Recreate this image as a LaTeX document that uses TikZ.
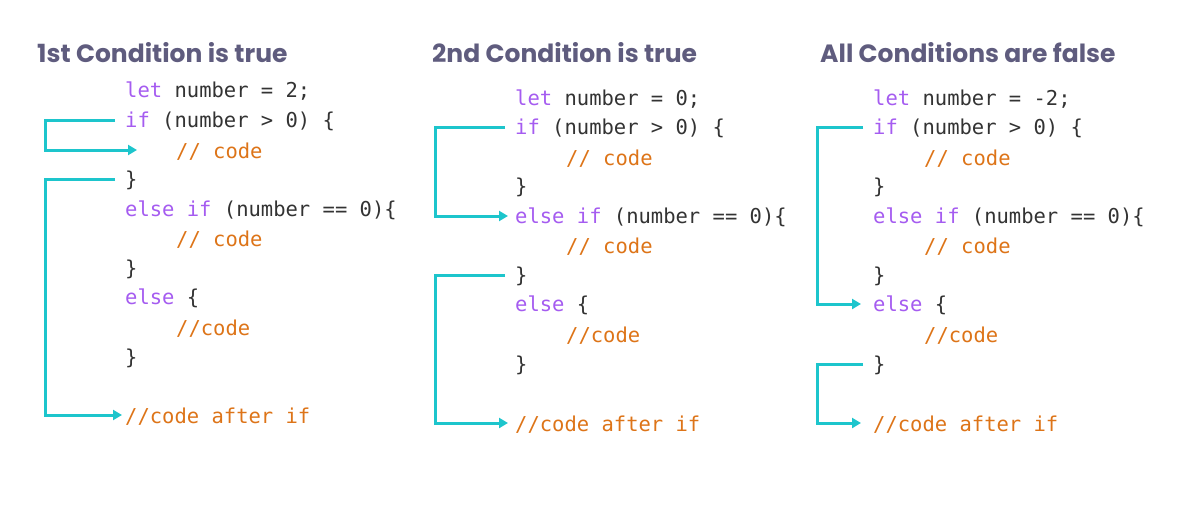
\documentclass[tikz,border=0pt]{standalone}
\usepackage{fontspec}
\setmainfont{Poppins}
\setmonofont{DejaVu Sans Mono}
\usetikzlibrary{arrows.meta}
\definecolor{kw}{HTML}{A55CF0}
\definecolor{cm}{HTML}{DD7418}
\definecolor{tx}{HTML}{333333}
\definecolor{ti}{HTML}{5F5C7E}
\definecolor{ar}{HTML}{1DC5CC}
\tikzset{
 code/.style={anchor=west,inner sep=0,yshift=-1.5pt,font=\fontsize{20.5}{20.5}\selectfont\ttfamily,text=tx},
 ttl/.style={anchor=west,inner sep=0,font=\fontsize{25}{25}\selectfont\bfseries,text=ti},
 flow/.style={draw=ar,line width=3pt,-{Triangle[length=9pt,width=10pt]}}
}
\newcommand{\K}[1]{\textcolor{kw}{#1}}
\newcommand{\C}[1]{\textcolor{cm}{#1}}
\begin{document}
\begin{tikzpicture}[x=1pt,y=-1pt]
\useasboundingbox (0,0) rectangle (1198,506);
% panel 1
\node[ttl] (t1) at (37,53) {1st Condition is true};
\node[code] (a1) at (125,90) {\K{let} number = 2;};
\node[code] (a2) at (125,120) {\K{if} (number > 0) \{};
\node[code] (a3) at (176,150) {\C{// code}};
\node[code] (a4) at (125,179) {\}};
\node[code] (a5) at (125,209) {\K{else if} (number == 0)\{};
\node[code] (a6) at (176,238) {\C{// code}};
\node[code] (a7) at (125,268) {\}};
\node[code] (a8) at (125,297) {\K{else} \{};
\node[code] (a9) at (176,327) {\C{//code}};
\node[code] (a10) at (125,357) {\}};
\node[code] (a11) at (125,415) {\C{//code after if}};
\coordinate (p1) at (115,120); \coordinate (q1) at (137,150);
\draw[flow] (p1) -- (45,120) |- (q1);
\coordinate (p2) at (115,179);
\draw[flow] (p2) -- (45,179) |- (122,415);
% panel 2
\node[ttl] (t2) at (432,53) {2nd Condition is true};
\node[code] (b1) at (515,98) {\K{let} number = 0;};
\node[code] (b2) at (515,127) {\K{if} (number > 0) \{};
\node[code] (b3) at (566,157) {\C{// code}};
\node[code] (b4) at (515,186) {\}};
\node[code] (b5) at (515,216) {\K{else if} (number == 0)\{};
\node[code] (b6) at (566,245) {\C{// code}};
\node[code] (b7) at (515,275) {\}};
\node[code] (b8) at (515,304) {\K{else} \{};
\node[code] (b9) at (566,334) {\C{//code}};
\node[code] (b10) at (515,364) {\}};
\node[code] (b11) at (515,423) {\C{//code after if}};
\coordinate (p3) at (505,127); \coordinate (p4) at (505,275);
\coordinate (e3) at (508,216); \coordinate (e4) at (508,423);
\draw[flow] (p3) -- (435,127) |- (e3);
\draw[flow] (p4) -- (435,275) |- (e4);
% panel 3
\node[ttl] (t3) at (820,53) {All Conditions are false};
\node[code] (c1) at (873,98) {\K{let} number = -2;};
\node[code] (c2) at (873,127) {\K{if} (number > 0) \{};
\node[code] (c3) at (924,157) {\C{// code}};
\node[code] (c4) at (873,186) {\}};
\node[code] (c5) at (873,216) {\K{else if} (number == 0)\{};
\node[code] (c6) at (924,245) {\C{// code}};
\node[code] (c7) at (873,275) {\}};
\node[code] (c8) at (873,304) {\K{else} \{};
\node[code] (c9) at (924,334) {\C{//code}};
\node[code] (c10) at (873,364) {\}};
\node[code] (c11) at (873,423) {\C{//code after if}};
\coordinate (p5) at (863,127); \coordinate (p6) at (863,364);
\coordinate (e5) at (861,304); \coordinate (e6) at (861,423);
\draw[flow] (p5) -- (817,127) |- (e5);
\draw[flow] (p6) -- (817,364) |- (e6);
\end{tikzpicture}
\end{document}
